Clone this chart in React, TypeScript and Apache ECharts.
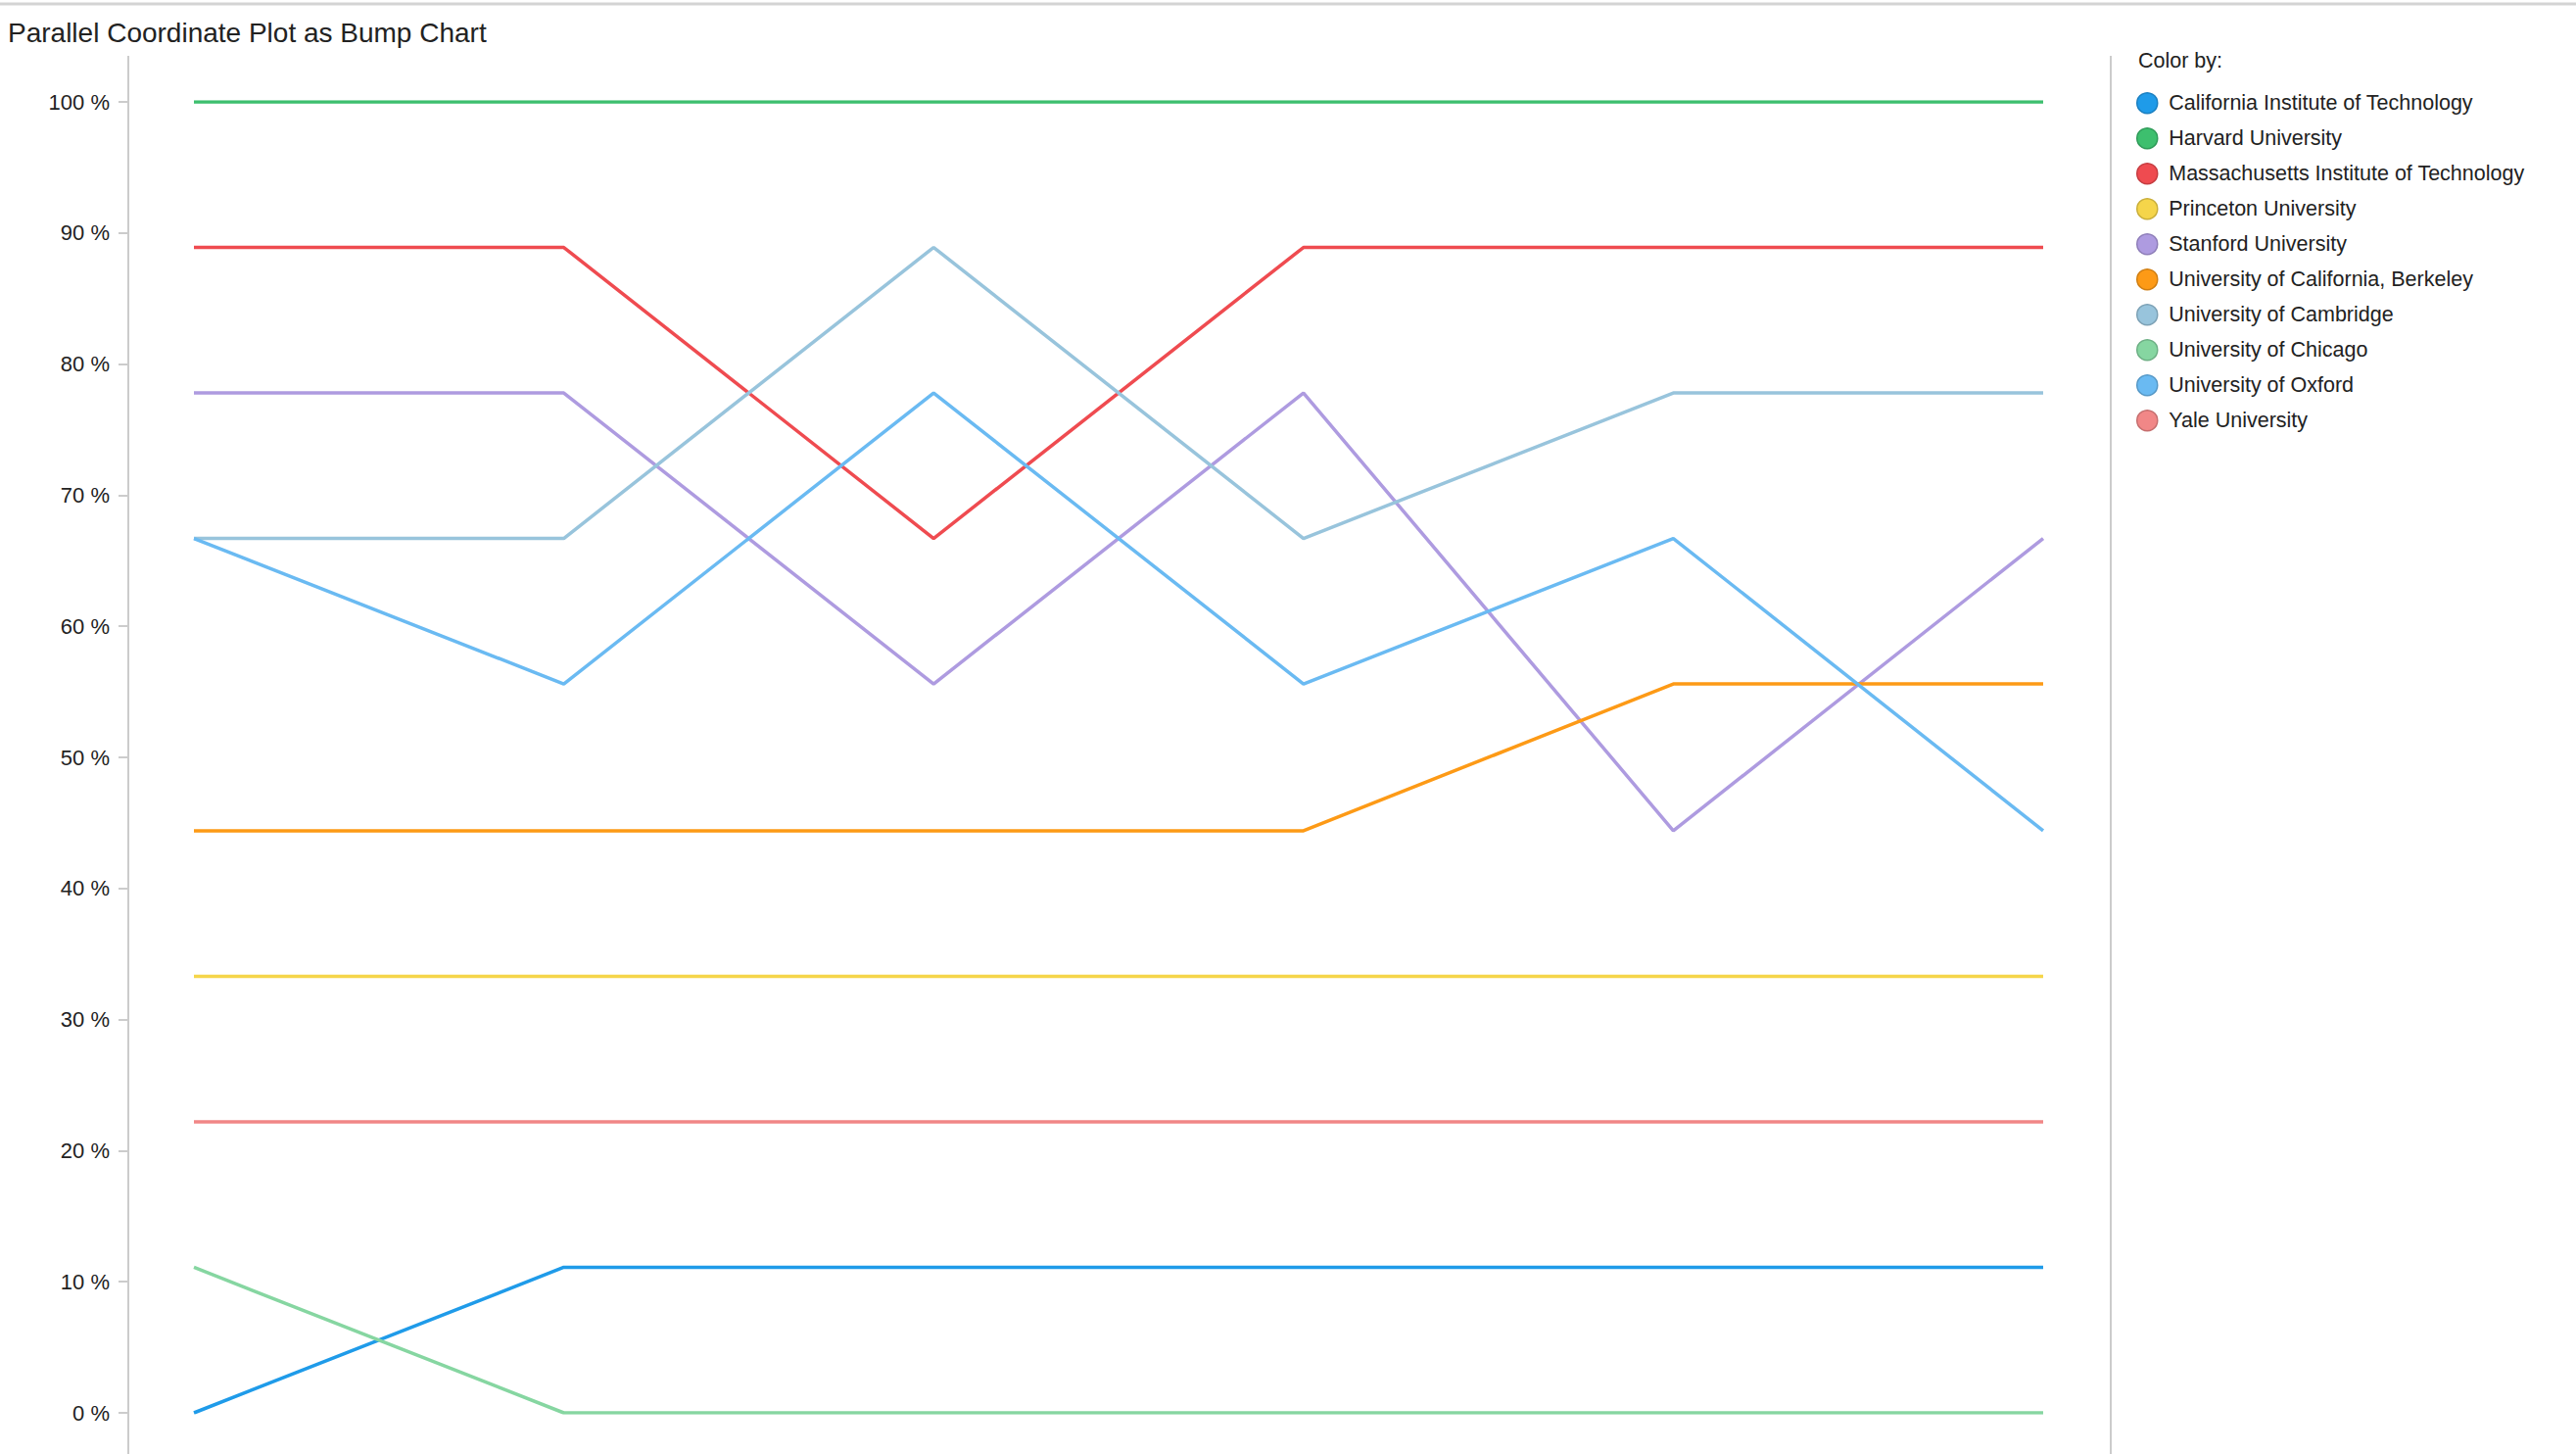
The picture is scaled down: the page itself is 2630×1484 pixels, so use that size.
import { useEffect, useRef } from 'react'
import * as echarts from 'echarts'

// dimensions of the parallel plot (no labels shown in the reference)
const dimensions = ['D1', 'D2', 'D3', 'D4', 'D5', 'D6']

const universities = [
  'California Institute of Technology',
  'Harvard University',
  'Massachusetts Institute of Technology',
  'Princeton University',
  'Stanford University',
  'University of California, Berkeley',
  'University of Cambridge',
  'University of Chicago',
  'University of Oxford',
  'Yale University',
]

// normalized rank in %, one value per dimension
const caltech = [0, 11.1, 11.1, 11.1, 11.1, 11.1]
const harvard = [100, 100, 100, 100, 100, 100]
const mit = [88.9, 88.9, 66.7, 88.9, 88.9, 88.9]
const princeton = [33.3, 33.3, 33.3, 33.3, 33.3, 33.3]
const stanford = [77.8, 77.8, 55.6, 77.8, 44.4, 66.7]
const berkeley = [44.4, 44.4, 44.4, 44.4, 55.6, 55.6]
const cambridge = [66.7, 66.7, 88.9, 66.7, 77.8, 77.8]
const chicago = [11.1, 0, 0, 0, 0, 0]
const oxford = [66.7, 55.6, 77.8, 55.6, 66.7, 44.4]
const yale = [22.2, 22.2, 22.2, 22.2, 22.2, 22.2]

const values = [caltech, harvard, mit, princeton, stanford, berkeley, cambridge, chicago, oxford, yale]

const colors = [
  '#1f9be9', '#3dbf6e', '#ef4b50', '#f5d54a', '#ae9be0',
  '#fd9a16', '#98c4dc', '#86d6a1', '#6abaf2', '#f18787',
]
const borderColors = [
  '#1a7fc0', '#2f9a58', '#c53c40', '#c9ae3a', '#8e7eb8',
  '#cf7e12', '#7ca1b5', '#6daf84', '#5698c6', '#c56e6e',
]

const FONT = '"Liberation Sans", Arial, sans-serif'

export default function App() {
  const chartRef = useRef<HTMLDivElement>(null)

  useEffect(() => {
    if (!chartRef.current) return
    const chart = echarts.init(chartRef.current, null, { renderer: 'svg' })

    const option = {
      animation: false,
      textStyle: { fontFamily: FONT },
      title: {
        text: 'Parallel Coordinate Plot as Bump Chart',
        left: 8,
        top: 19,
        padding: 0,
        textStyle: { fontSize: 28, fontWeight: 'normal', color: '#222', fontFamily: FONT },
      },
      grid: { left: 198, right: 544, top: 104, bottom: 42 },
      xAxis: {
        type: 'category',
        data: dimensions,
        boundaryGap: false,
        axisLine: { show: false },
        axisTick: { show: false },
        axisLabel: { show: false },
        splitLine: { show: false },
      },
      yAxis: {
        type: 'value',
        min: 0,
        max: 100,
        interval: 10,
        offset: 67,
        axisLine: { show: false },
        axisTick: { show: true, length: 10, lineStyle: { color: '#cccccc', width: 2 } },
        axisLabel: {
          formatter: '{value} %',
          fontSize: 22,
          color: '#222',
          margin: 19,
          fontFamily: FONT,
        },
        splitLine: { show: false },
      },
      legend: {
        orient: 'vertical',
        left: 2176,
        top: 89,
        padding: 5,
        icon: 'circle',
        itemWidth: 34,
        itemHeight: 21,
        itemGap: 13.5,
        textStyle: { fontSize: 21.5, color: '#222', fontFamily: FONT },
        data: universities.map((name, i) => ({
          name,
          itemStyle: { color: colors[i], borderColor: borderColors[i], borderWidth: 1.5 },
        })),
      },
      graphic: [
        {
          type: 'line',
          shape: { x1: 0, y1: 4, x2: 2630, y2: 4 },
          style: { stroke: '#d4d4d4', lineWidth: 3 },
        },
        {
          type: 'line',
          shape: { x1: 131, y1: 57, x2: 131, y2: 1484 },
          style: { stroke: '#cccccc', lineWidth: 2 },
        },
        {
          type: 'line',
          shape: { x1: 2155, y1: 57, x2: 2155, y2: 1484 },
          style: { stroke: '#cccccc', lineWidth: 2 },
        },
        {
          type: 'text',
          x: 2183,
          y: 62,
          style: {
            text: 'Color by:',
            fontSize: 21.5,
            fill: '#222',
            fontFamily: FONT,
            verticalAlign: 'middle',
          },
        },
      ],
      series: universities.map((name, i) => ({
        name,
        type: 'line',
        data: values[i],
        symbol: 'none',
        color: colors[i],
        lineStyle: { width: 3.5, color: colors[i] },
      })),
    }

    chart.setOption(option)

    return () => {
      chart.dispose()
    }
  }, [])

  return (
    <div
      ref={chartRef}
      style={{ position: 'absolute', left: 0, top: 0, width: 2630, height: 1484, background: '#fff' }}
    />
  )
}
